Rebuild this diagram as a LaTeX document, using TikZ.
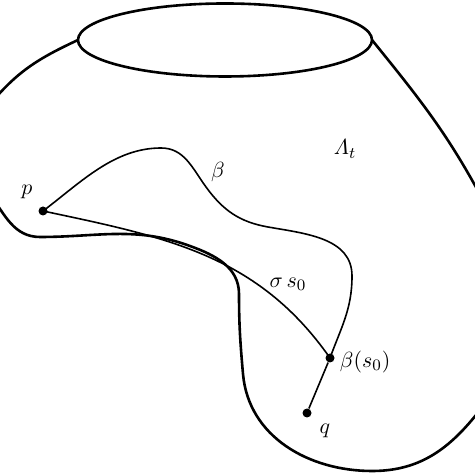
\documentclass[tikz,border=0pt]{standalone}
\usepackage{amsmath, amssymb}
\usetikzlibrary{positioning}

\begin{document}
\begin{tikzpicture}[x=0.5pt, y=0.5pt,
    dot/.style={circle, fill, inner sep=0pt, minimum size=4.5pt},
    rim/.style={line width=1.3pt},
    geo/.style={line width=0.8pt},
    every node/.append style={font=\fontsize{11}{13}\selectfont}]
  \useasboundingbox (0,0) rectangle (474,474);
  % points
  \node[dot] (p) at (43,263) {};
  \node[dot] (bs) at (330,116) {};
  \node[dot] (q) at (307,61) {};
  % boundary of the region
  \draw[rim] (225,434) ellipse (147 and 36.5);
  \draw[rim] (78,434) to[out=-155, in=50] (-8,372);
  \draw[rim] (372,434) to[out=-51, in=118] (484,272);
  \draw[rim] (-10,280) to[out=-55, in=180] (40,237) to[out=0, in=160] (190,228)
      to[out=-20, in=90] (239,180) to[out=-90, in=95] (243,100)
      to[out=-85, in=180] (372,3) to[out=0, in=-128] (480,64);
  % curves
  \draw[geo] (p.center) to[out=37, in=180, looseness=0.9] (161,326)
      to[out=0, in=126] (206,287) to[out=-54, in=170] (268,247)
      to[out=-10, in=90] (352,198) to[out=-90, in=70] (bs.center);
  \draw[geo] (p.center) to[out=-12, in=125] (bs.center);
  \draw[geo] (bs) -- (q);
  % labels
  \node[above left=1pt and 0pt of p] {$p$};
  \node[right=-1pt of bs, yshift=-2pt] {$\beta(s_0)$};
  \node[below right=0.5pt and 1pt of q] {$q$};
  \node at (218,302) {$\beta$};
  \node at (288,190) {$\sigma\,s_0$};
  \node at (345,325) {$\varLambda_t$};
\end{tikzpicture}
\end{document}
